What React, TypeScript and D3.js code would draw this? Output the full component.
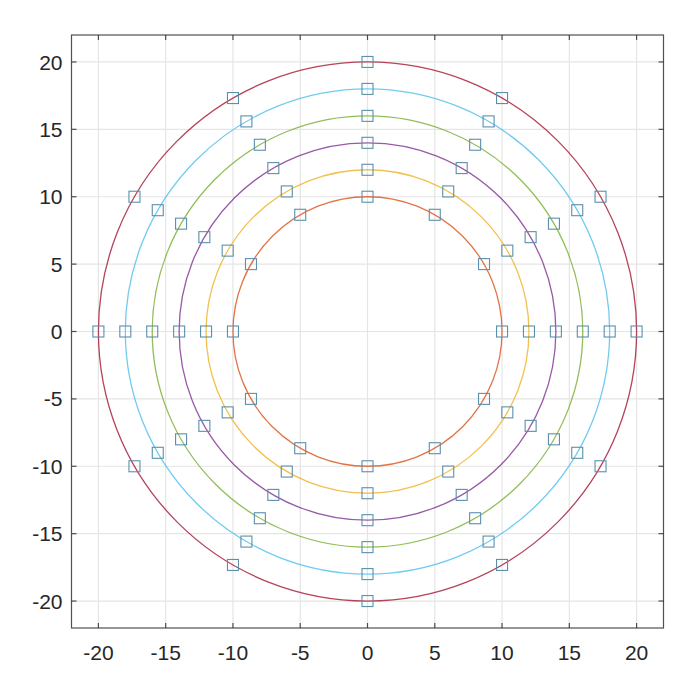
import { useMemo } from 'react';
import * as d3 from 'd3';

const radii = [10, 12, 14, 16, 18, 20];
const lineColors = ['#D95319', '#EDB120', '#7E2F8E', '#77AC30', '#4DBEEE', '#A2142F'];
const markerAngles = [0, 30, 60, 90, 120, 150, 180, 210, 240, 270, 300, 330];
const tickValues = [-20, -15, -10, -5, 0, 5, 10, 15, 20];
const axisDomain: [number, number] = [-22, 22];

const WIDTH = 700;
const HEIGHT = 686;
const margin = { left: 71.5, right: 36.5, top: 35, bottom: 58 };
const markerSize = 11;
const tickLen = 5;

export default function App() {
  const x = useMemo(
    () => d3.scaleLinear().domain(axisDomain).range([margin.left, WIDTH - margin.right]),
    []
  );
  const y = useMemo(
    () => d3.scaleLinear().domain(axisDomain).range([HEIGHT - margin.bottom, margin.top]),
    []
  );

  const [x0, x1] = x.range();
  const [y0, y1] = y.range();
  const axisColor = '#333333';
  const font = 'Arial, "Liberation Sans", Helvetica, sans-serif';

  const markers = radii.flatMap(r =>
    markerAngles.map(a => {
      const t = (a * Math.PI) / 180;
      return { key: `${r}-${a}`, cx: x(r * Math.cos(t)), cy: y(r * Math.sin(t)) };
    })
  );

  return (
    <svg
      width={WIDTH}
      height={HEIGHT}
      style={{ position: 'absolute', left: 0, top: 0, background: '#fff' }}
    >
      <rect width={WIDTH} height={HEIGHT} fill="#fff" />
      <g className="grid" stroke="#e5e5e5" strokeWidth={1.2}>
        {tickValues.map(v => (
          <line key={`gx${v}`} x1={x(v)} x2={x(v)} y1={y1} y2={y0} />
        ))}
        {tickValues.map(v => (
          <line key={`gy${v}`} x1={x0} x2={x1} y1={y(v)} y2={y(v)} />
        ))}
      </g>
      <g className="circles" fill="none" strokeWidth={1.3} strokeOpacity={0.8}>
        {radii.map((r, i) => (
          <ellipse
            key={r}
            cx={x(0)}
            cy={y(0)}
            rx={x(r) - x(0)}
            ry={y(0) - y(r)}
            stroke={lineColors[i]}
          />
        ))}
      </g>
      <g className="markers" fill="none" stroke="#5A90AC" strokeWidth={1.1}>
        {markers.map(m => (
          <rect
            key={m.key}
            x={m.cx - markerSize / 2}
            y={m.cy - markerSize / 2}
            width={markerSize}
            height={markerSize}
          />
        ))}
      </g>
      <g className="axes" stroke={axisColor} strokeWidth={1.2} fill="none" strokeOpacity={0.85}>
        <rect x={x0} y={y1} width={x1 - x0} height={y0 - y1} />
        {tickValues.map(v => (
          <g key={`t${v}`}>
            <line x1={x(v)} x2={x(v)} y1={y0} y2={y0 - tickLen} />
            <line x1={x(v)} x2={x(v)} y1={y1} y2={y1 + tickLen} />
            <line x1={x0} x2={x0 + tickLen} y1={y(v)} y2={y(v)} />
            <line x1={x1} x2={x1 - tickLen} y1={y(v)} y2={y(v)} />
          </g>
        ))}
      </g>
      <g fill="#262626" fontFamily={font} fontSize={21}>
        {tickValues.map(v => (
          <text key={`xl${v}`} x={x(v)} y={y0 + 32} textAnchor="middle">
            {v}
          </text>
        ))}
        {tickValues.map(v => (
          <text key={`yl${v}`} x={x0 - 9} y={y(v)} dy="0.36em" textAnchor="end">
            {v}
          </text>
        ))}
      </g>
    </svg>
  );
}
